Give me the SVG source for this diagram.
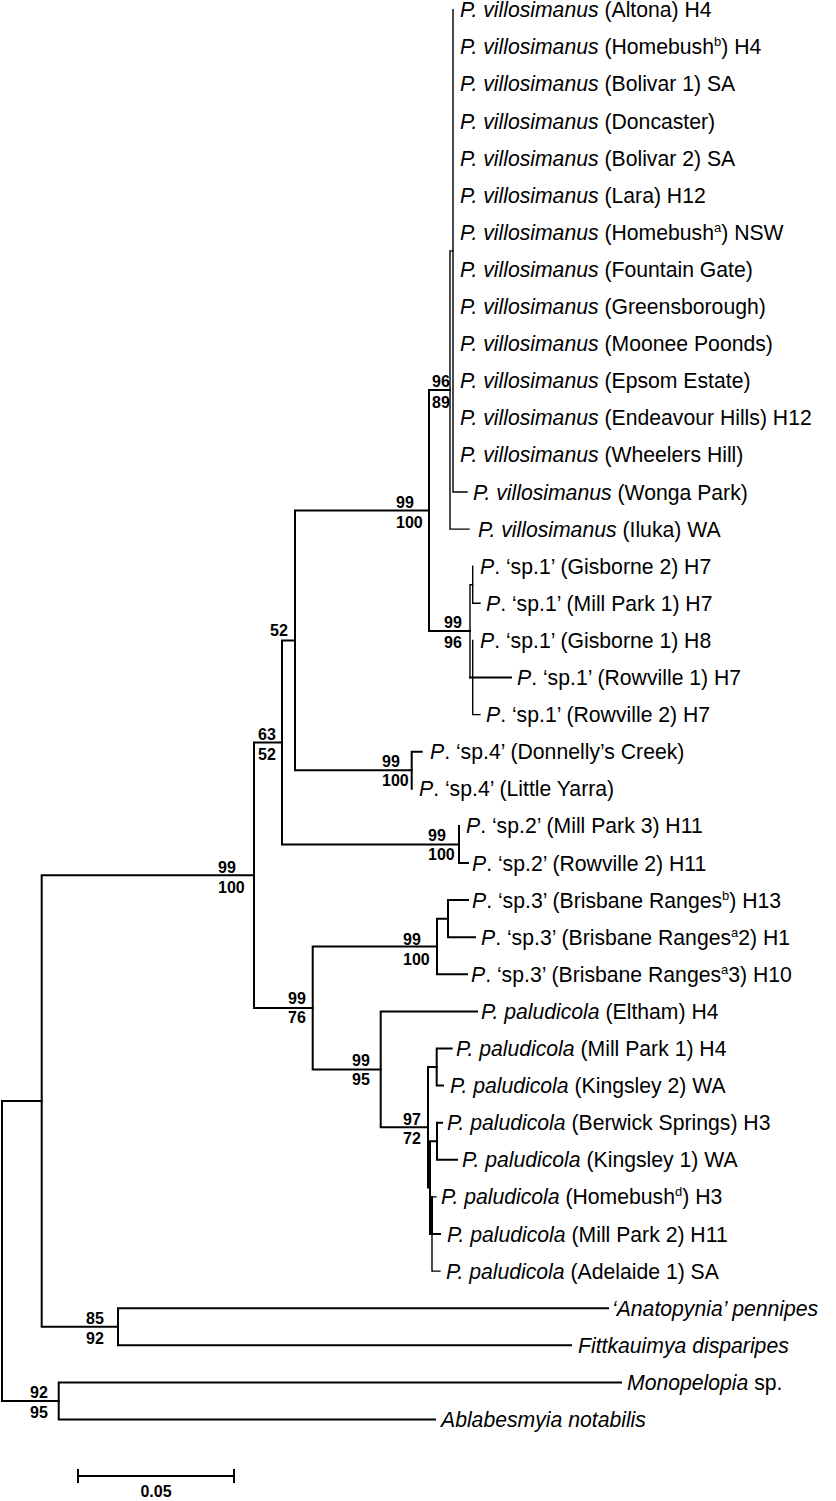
<svg xmlns="http://www.w3.org/2000/svg" width="836" height="1501" viewBox="0 0 836 1501">
<style>
.t{font-family:"Liberation Sans",Arial,sans-serif;font-size:21.2px;fill:#000}
.i{font-style:italic}
.s{font-size:13px}
.b{font-family:"Liberation Sans",Arial,sans-serif;font-size:16px;font-weight:bold;fill:#000}
.ln{fill:none;stroke:#000;stroke-width:2;stroke-linecap:square}
.th{fill:none;stroke:#000;stroke-width:1.4;stroke-linecap:square}
</style>
<rect width="836" height="1501" fill="#fff"/>
<g id="connectors">
<path class="ln" d="M2,1101V1401M2,1101H41.7M2,1401H58.7"/>
<path class="ln" d="M41.7,875.2V1326.8M41.7,875.2H254M41.7,1326.8H118"/>
<path class="ln" d="M118,1308.2V1345.3M118,1308.2H608M118,1345.3H571"/>
<path class="ln" d="M58.7,1382.4V1419.5M58.7,1382.4H621M58.7,1419.5H435"/>
<path class="ln" d="M254,742.4V1007.9M254,742.4H282M254,1007.9H312.7"/>
<path class="ln" d="M282,640.4V844.5M282,640.4H295M282,844.5H459"/>
<path class="ln" d="M295,510.5V770.3M295,510.5H429M295,770.3H411.7"/>
<path class="ln" d="M411.7,751.7V788.8M411.7,751.7H421.7"/>
<path class="ln" d="M459,825.9V863M459,863H468"/>
<path class="ln" d="M429,390V631.1M429,390H450M429,631.1H470"/>
<path class="th" d="M450,250.9V529.1M450,250.9H453M450,529.1H469"/>
<path class="th" d="M453,9.7V492M453,492H467"/>
<path class="th" d="M470,584.8V677.5M470,584.8H472.7"/>
<path class="ln" d="M470,677.5H511"/>
<path class="th" d="M472.7,566.2V603.3M472.7,603.3H480"/>
<path class="th" d="M472.7,640.4V714.6M472.7,714.6H480"/>
<path class="ln" d="M312.7,946.5V1069.4M312.7,946.5H437M312.7,1069.4H380.7"/>
<path class="ln" d="M437,918.7V974.3M437,918.7H448M437,974.3H467"/>
<path class="ln" d="M448,900.1V937.2M448,900.1H468M448,937.2H475"/>
<path class="ln" d="M380.7,1011.4V1127.3M380.7,1011.4H477M380.7,1127.3H428"/>
<path class="ln" d="M428,1067.1V1187.6M428,1067.1H436.7M428,1187.6H430"/>
<path class="ln" d="M436.7,1048.5V1085.6M436.7,1048.5H451.7M436.7,1085.6H443"/>
<path class="ln" d="M430,1141.3V1234M430,1141.3H437"/>
<path class="ln" d="M437,1122.7V1159.8M437,1122.7H442M437,1159.8H457"/>
<path class="ln" d="M432,1196.9V1234M432,1234H440"/>
<path class="th" d="M432,1234V1271.1M432,1271.1H440M432,1196.9H436"/>
</g>
<g id="support">
<text class="b" x="432" y="387">96</text><text class="b" x="432" y="408">89</text>
<text class="b" x="396" y="508">99</text><text class="b" x="396" y="528">100</text>
<text class="b" x="444" y="628">99</text><text class="b" x="444" y="648">96</text>
<text class="b" x="270" y="636">52</text>
<text class="b" x="258" y="740">63</text><text class="b" x="258" y="760">52</text>
<text class="b" x="382" y="767">99</text><text class="b" x="382" y="786">100</text>
<text class="b" x="428" y="841">99</text><text class="b" x="428" y="860">100</text>
<text class="b" x="218" y="873">99</text><text class="b" x="218" y="893">100</text>
<text class="b" x="403" y="945">99</text><text class="b" x="403" y="965">100</text>
<text class="b" x="288" y="1004">99</text><text class="b" x="288" y="1023">76</text>
<text class="b" x="352" y="1066">99</text><text class="b" x="352" y="1085">95</text>
<text class="b" x="403" y="1125">97</text><text class="b" x="403" y="1144">72</text>
<text class="b" x="86" y="1324">85</text><text class="b" x="86" y="1344">92</text>
<text class="b" x="30" y="1398">92</text><text class="b" x="30" y="1418">95</text>
</g>
<g id="t0"><text class="t" x="460" y="17.2"><tspan class="i">P. villosimanus</tspan> (Altona) H4</text></g>
<g id="t1"><text class="t" x="460" y="54.3"><tspan class="i">P. villosimanus</tspan> (Homebush<tspan class="s" dy="-8">b</tspan><tspan dy="8">) H4</tspan></text></g>
<g id="t2"><text class="t" x="460" y="91.4"><tspan class="i">P. villosimanus</tspan> (Bolivar 1) SA</text></g>
<g id="t3"><text class="t" x="460" y="128.5"><tspan class="i">P. villosimanus</tspan> (Doncaster)</text></g>
<g id="t4"><text class="t" x="460" y="165.6"><tspan class="i">P. villosimanus</tspan> (Bolivar 2) SA</text></g>
<g id="t5"><text class="t" x="460" y="202.7"><tspan class="i">P. villosimanus</tspan> (Lara) H12</text></g>
<g id="t6"><text class="t" x="460" y="239.8"><tspan class="i">P. villosimanus</tspan> (Homebush<tspan class="s" dy="-8">a</tspan><tspan dy="8">) NSW</tspan></text></g>
<g id="t7"><text class="t" x="460" y="276.9"><tspan class="i">P. villosimanus</tspan> (Fountain Gate)</text></g>
<g id="t8"><text class="t" x="460" y="314"><tspan class="i">P. villosimanus</tspan> (Greensborough)</text></g>
<g id="t9"><text class="t" x="460" y="351.1"><tspan class="i">P. villosimanus</tspan> (Moonee Poonds)</text></g>
<g id="t10"><text class="t" x="460" y="388.2"><tspan class="i">P. villosimanus</tspan> (Epsom Estate)</text></g>
<g id="t11"><text class="t" x="460" y="425.3"><tspan class="i">P. villosimanus</tspan> (Endeavour Hills) H12</text></g>
<g id="t12"><text class="t" x="460" y="462.4"><tspan class="i">P. villosimanus</tspan> (Wheelers Hill)</text></g>
<g id="t13"><text class="t" x="473" y="499.5"><tspan class="i">P. villosimanus</tspan> (Wonga Park)</text></g>
<g id="t14"><text class="t" x="478" y="536.6"><tspan class="i">P. villosimanus</tspan> (Iluka) WA</text></g>
<g id="t15"><text class="t" x="480" y="573.7"><tspan class="i">P</tspan>. ‘sp.1’ (Gisborne 2) H7</text></g>
<g id="t16"><text class="t" x="486" y="610.8"><tspan class="i">P</tspan>. ‘sp.1’ (Mill Park 1) H7</text></g>
<g id="t17"><text class="t" x="480" y="647.9"><tspan class="i">P</tspan>. ‘sp.1’ (Gisborne 1) H8</text></g>
<g id="t18"><text class="t" x="517" y="685"><tspan class="i">P</tspan>. ‘sp.1’ (Rowville 1) H7</text></g>
<g id="t19"><text class="t" x="486" y="722.1"><tspan class="i">P</tspan>. ‘sp.1’ (Rowville 2) H7</text></g>
<g id="t20"><text class="t" x="430" y="759.2"><tspan class="i">P</tspan>. ‘sp.4’ (Donnelly’s Creek)</text></g>
<g id="t21"><text class="t" x="419" y="796.3"><tspan class="i">P</tspan>. ‘sp.4’ (Little Yarra)</text></g>
<g id="t22"><text class="t" x="466" y="833.4"><tspan class="i">P</tspan>. ‘sp.2’ (Mill Park 3) H11</text></g>
<g id="t23"><text class="t" x="472" y="870.5"><tspan class="i">P</tspan>. ‘sp.2’ (Rowville 2) H11</text></g>
<g id="t24"><text class="t" x="472" y="907.6"><tspan class="i">P</tspan>. ‘sp.3’ (Brisbane Ranges<tspan class="s" dy="-8">b</tspan><tspan dy="8">) H13</tspan></text></g>
<g id="t25"><text class="t" x="481" y="944.7"><tspan class="i">P</tspan>. ‘sp.3’ (Brisbane Ranges<tspan class="s" dy="-8">a</tspan><tspan dy="8">2) H1</tspan></text></g>
<g id="t26"><text class="t" x="471" y="981.8"><tspan class="i">P</tspan>. ‘sp.3’ (Brisbane Ranges<tspan class="s" dy="-8">a</tspan><tspan dy="8">3) H10</tspan></text></g>
<g id="t27"><text class="t" x="481" y="1018.9"><tspan class="i">P. paludicola</tspan> (Eltham) H4</text></g>
<g id="t28"><text class="t" x="456" y="1056"><tspan class="i">P. paludicola</tspan> (Mill Park 1) H4</text></g>
<g id="t29"><text class="t" x="450" y="1093.1"><tspan class="i">P. paludicola</tspan> (Kingsley 2) WA</text></g>
<g id="t30"><text class="t" x="447" y="1130.2"><tspan class="i">P. paludicola</tspan> (Berwick Springs) H3</text></g>
<g id="t31"><text class="t" x="462" y="1167.3"><tspan class="i">P. paludicola</tspan> (Kingsley 1) WA</text></g>
<g id="t32"><text class="t" x="441" y="1204.4"><tspan class="i">P. paludicola</tspan> (Homebush<tspan class="s" dy="-8">d</tspan><tspan dy="8">) H3</tspan></text></g>
<g id="t33"><text class="t" x="447" y="1241.5"><tspan class="i">P. paludicola</tspan> (Mill Park 2) H11</text></g>
<g id="t34"><text class="t" x="446" y="1278.6"><tspan class="i">P. paludicola</tspan> (Adelaide 1) SA</text></g>
<g id="t35"><text class="t i" x="612" y="1315.7">‘Anatopynia’ pennipes</text></g>
<g id="t36"><text class="t i" x="578" y="1352.8">Fittkauimya disparipes</text></g>
<g id="t37"><text class="t" x="627" y="1389.9"><tspan class="i">Monopelopia</tspan> sp.</text></g>
<g id="t38"><text class="t i" x="441" y="1427">Ablabesmyia notabilis</text></g>
<g id="scale">
<path class="ln" d="M78,1476H234M78,1470V1482M234,1470V1482"/>
<text class="b" x="156" y="1497" text-anchor="middle">0.05</text>
</g>
</svg>
